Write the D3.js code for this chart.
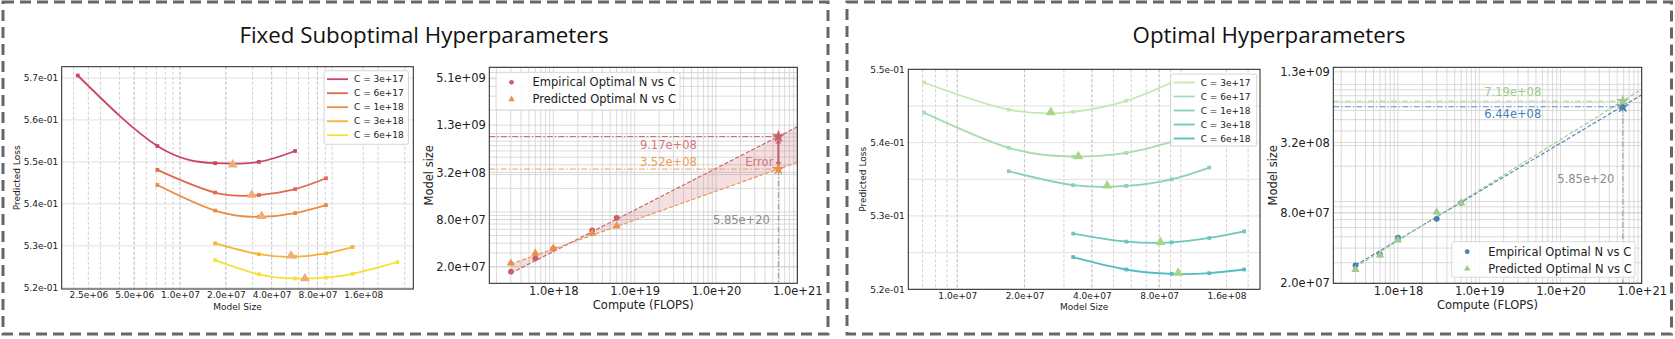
<!DOCTYPE html>
<html>
<head>
<meta charset="utf-8">
<script src="https://cdn.jsdelivr.net/npm/d3@7"></script>
<style>
  body { margin: 0; background: #fff; }
</style>
</head>
<body>
<script>
// compute budgets shared by all four charts
const budgetLabels = ["C = 3e+17", "C = 6e+17", "C = 1e+18", "C = 3e+18", "C = 6e+18"];
const budgets = [3e17, 6e17, 1e18, 3e18, 6e18];

// --- Fixed suboptimal hyperparameters: loss vs model size
const fixedSizes = [
  [2.13e6, 7.1e6, 1.7e7, 3.3e7, 5.7e7],
  [7.1e6, 1.7e7, 3.3e7, 5.7e7, 9.1e7],
  [7.1e6, 1.7e7, 3.3e7, 5.7e7, 9.1e7],
  [1.7e7, 3.3e7, 5.7e7, 9.1e7, 1.36e8],
  [1.7e7, 3.3e7, 5.7e7, 9.1e7, 1.36e8, 2.68e8]
];
const fixedLoss = [
  [0.5706, 0.5538, 0.5497, 0.5500, 0.5526],
  [0.5481, 0.5427, 0.5421, 0.5435, 0.5461],
  [0.5445, 0.5384, 0.5369, 0.5378, 0.5397],
  [0.5306, 0.5280, 0.5274, 0.5282, 0.5297],
  [0.5266, 0.5232, 0.5222, 0.5224, 0.5233, 0.5261]
];
const fixedPredSize = [2.22e7, 2.96e7, 3.44e7, 5.36e7, 6.62e7];
const fixedPredLoss = [0.5491, 0.5419, 0.5368, 0.5274, 0.5220];
const fixedEmpSize = [1.73e7, 2.56e7, 3.40e7, 5.82e7, 8.43e7];
// fitted N vs C lines, read at both ends
const fixedEmpFit = [[3e17, 1.65e7], [1e21, 1.22e9]];
const fixedPredFit = [[3e17, 2.16e7], [1e21, 4.30e8]];

// --- Optimal hyperparameters: loss vs model size
const optSizes = [
  [7.1e6, 1.7e7, 3.3e7, 5.7e7, 9.1e7],
  [7.1e6, 1.7e7, 3.3e7, 5.7e7, 9.1e7],
  [1.7e7, 3.3e7, 5.7e7, 9.1e7, 1.34e8],
  [3.3e7, 5.7e7, 9.1e7, 1.34e8, 1.92e8],
  [3.3e7, 5.7e7, 9.1e7, 1.34e8, 1.92e8]
];
const optLoss = [
  [0.5482, 0.5445, 0.5442, 0.5457, 0.5482],
  [0.5441, 0.5393, 0.5381, 0.5386, 0.5401],
  [0.5361, 0.5342, 0.5341, 0.5350, 0.5366],
  [0.5276, 0.5265, 0.5264, 0.5270, 0.5279],
  [0.5244, 0.5227, 0.5221, 0.5222, 0.5227]
];
const optPredSize = [2.62e7, 3.48e7, 4.68e7, 8.1e7, 9.73e7];
const optPredLoss = [0.5440, 0.5380, 0.5340, 0.5263, 0.5221];
const optEmpSize = [2.85e7, 3.53e7, 4.90e7, 7.11e7, 9.73e7];
const optEmpFit = [[3e17, 2.85e7], [1e21, 8.15e8]];
const optPredFit = [[3e17, 2.75e7], [1e21, 9.1e8]];

// extrapolation target
const targetCompute = 5.85e20;
const fixedTarget = { emp: 9.17e8, pred: 3.52e8 };
const optTarget = { emp: 6.44e8, pred: 7.19e8 };

// tick values
const fixedSizeTicks = [2.5e6, 5e6, 1e7, 2e7, 4e7, 8e7, 1.6e8];
const fixedLossTicks = [0.52, 0.53, 0.54, 0.55, 0.56, 0.57];
const optSizeTicks = [1e7, 2e7, 4e7, 8e7, 1.6e8];
const optLossTicks = [0.52, 0.53, 0.54, 0.55];
const optLossGrid = [0.52, 0.525, 0.53, 0.535, 0.54, 0.545, 0.55];
const computeTicks = [1e18, 1e19, 1e20, 1e21];
const fixedNTicks = [2e7, 8e7, 3.2e8, 1.28e9, 5.12e9];
const optNTicks = [2e7, 8e7, 3.2e8, 1.28e9];

const warm = ["#c94763", "#e0694f", "#ec8b42", "#f4b437", "#f3e23a"];
const cool = ["#c7e8aa", "#a7dcb0", "#8bd1b3", "#6fc7bb", "#56bcc3"];

const FONT = "'DejaVu Sans', sans-serif";
const svg = d3.select("body").append("svg")
  .attr("width", 1675).attr("height", 339)
  .style("font-family", FONT);

// matplotlib style "%.1e" / "%.2e"
const sci = digits => v => {
  const [m, e] = v.toExponential(digits).split("e");
  const n = +e;
  return m + "e" + (n < 0 ? "-" : "+") + String(Math.abs(n)).padStart(2, "0");
};
const fmt = sci(1);
const fmt2 = sci(2);

// dashed outer panels + titles
[[3, 2, 828, 334], [847, 2, 1671.5, 334]].forEach(([x0, y0, x1, y1]) => {
  svg.append("rect").attr("x", x0).attr("y", y0).attr("width", x1 - x0).attr("height", y1 - y0)
    .attr("fill", "none").attr("stroke", "#666").attr("stroke-width", 3).attr("stroke-dasharray", "11,6");
});
svg.append("text").attr("x", 424).attr("y", 43).attr("text-anchor", "middle")
  .style("font-family", "'Open Sans', sans-serif").style("font-size", "22.3px").attr("fill", "#111")
  .text("Fixed Suboptimal Hyperparameters");
svg.append("text").attr("x", 1269).attr("y", 43).attr("text-anchor", "middle")
  .style("font-family", "'Open Sans', sans-serif").style("font-size", "22.3px").attr("fill", "#111")
  .text("Optimal Hyperparameters");

function styleAxis(ax, fs) {
  ax.select(".domain").remove();
  ax.attr("font-family", FONT).attr("font-size", fs);
  ax.selectAll("text").attr("fill", "#222");
}

function frame(g, L, T, R, B) {
  g.append("rect").attr("x", L).attr("y", T).attr("width", R - L).attr("height", B - T)
    .attr("fill", "none").attr("stroke", "#222").attr("stroke-width", 1);
}

function lossPanel(c) {
  const [L, T, R, B] = c.box;
  const x = d3.scaleLog().domain(c.xDomain).range([L, R]);
  const y = d3.scaleLinear().domain(c.yDomain).range([B, T]);
  const g = svg.append("g");

  g.append("g").selectAll("line").data(x.ticks().concat(c.xTicks)).join("line")
    .attr("x1", d => x(d)).attr("x2", d => x(d)).attr("y1", T).attr("y2", B)
    .attr("stroke", "#c4c4c4").attr("stroke-width", 0.8).attr("stroke-dasharray", "3,2");
  g.append("g").selectAll("line").data(c.yGrid).join("line")
    .attr("x1", L).attr("x2", R).attr("y1", d => y(d)).attr("y2", d => y(d))
    .attr("stroke", "#d9d9d9").attr("stroke-width", 0.8);

  const line = d3.line().x(d => x(d[0])).y(d => y(d[1])).curve(d3.curveNatural);
  c.sizes.forEach((s, i) => {
    const pts = s.map((n, j) => [n, c.loss[i][j]]);
    g.append("path").datum(pts).attr("d", line)
      .attr("fill", "none").attr("stroke", c.colors[i]).attr("stroke-width", 1.8);
    g.append("g").selectAll("path").data(pts).join("path")
      .attr("transform", d => `translate(${x(d[0])},${y(d[1])})`)
      .attr("d", d3.symbol(d3.symbolSquare, 14)).attr("fill", c.colors[i]);
  });
  g.append("g").selectAll("path").data(c.predSize).join("path")
    .attr("transform", (d, i) => `translate(${x(d)},${y(c.predLoss[i]) - 1})`)
    .attr("d", d3.symbol(d3.symbolTriangle, 42)).attr("fill", c.triColor);

  // legend
  const [lx0, ly0, lx1, ly1] = c.legend;
  const lg = g.append("g");
  lg.append("rect").attr("x", lx0).attr("y", ly0).attr("width", lx1 - lx0).attr("height", ly1 - ly0)
    .attr("rx", 2).attr("fill", "#fff").attr("fill-opacity", 0.85).attr("stroke", "#ccc").attr("stroke-width", 0.8);
  budgetLabels.forEach((t, i) => {
    const yy = ly0 + 8.5 + i * 14;
    lg.append("line").attr("x1", lx0 + 3).attr("x2", lx0 + 24).attr("y1", yy).attr("y2", yy)
      .attr("stroke", c.colors[i]).attr("stroke-width", 1.8);
    lg.append("text").attr("x", lx0 + 30).attr("y", yy).attr("dy", "0.35em")
      .attr("font-size", 9).attr("fill", "#222").text(t);
  });

  frame(g, L, T, R, B);

  styleAxis(g.append("g").attr("transform", `translate(0,${B})`)
    .call(d3.axisBottom(x).tickValues(c.xTicks).tickFormat(fmt).tickSize(0).tickPadding(2.9)), 9);
  styleAxis(g.append("g").attr("transform", `translate(${L},0)`)
    .call(d3.axisLeft(y).tickValues(c.yTicks).tickFormat(fmt).tickSize(0).tickPadding(3.5)), 9);

  g.append("text").attr("x", (L + R) / 2).attr("y", B + 21).attr("text-anchor", "middle")
    .attr("font-size", 9).attr("fill", "#222").text("Model Size");
  g.append("text").attr("transform", `translate(${c.ylabelX},${(T + B) / 2}) rotate(-90)`)
    .attr("text-anchor", "middle").attr("dy", "0.35em")
    .attr("font-size", 9).attr("fill", "#222").text("Predicted Loss");
}

function scalingPanel(c) {
  const [L, T, R, B] = c.box;
  const x = d3.scaleLog().domain(c.xDomain).range([L, R]);
  const y = d3.scaleLog().domain(c.yDomain).range([B, T]);
  const g = svg.append("g");

  g.append("g").selectAll("line").data(x.ticks()).join("line")
    .attr("x1", d => x(d)).attr("x2", d => x(d)).attr("y1", T).attr("y2", B)
    .attr("stroke", "#d0d0d0").attr("stroke-width", 0.8);
  g.append("g").selectAll("line").data(y.ticks().concat(c.yTicks)).join("line")
    .attr("x1", L).attr("x2", R).attr("y1", d => y(d)).attr("y2", d => y(d))
    .attr("stroke", "#d0d0d0").attr("stroke-width", 0.8);

  const px = d => x(d[0]), py = d => y(d[1]);
  if (c.shade) {
    const band = c.empFit.map((d, i) => [d[0], d[1], c.predFit[i][1]]);
    g.append("path").datum(band)
      .attr("d", d3.area().x(d => x(d[0])).y0(d => y(d[1])).y1(d => y(d[2])))
      .attr("fill", c.empColor).attr("fill-opacity", 0.2);
  }
  [[c.empFit, c.empColor], [c.predFit, c.predColor]].forEach(([f, col]) => {
    g.append("path").datum(f).attr("d", d3.line().x(px).y(py))
      .attr("fill", "none").attr("stroke", col).attr("stroke-width", 1.1).attr("stroke-dasharray", "4,2");
  });

  const xt = x(c.target);
  // horizontal reference lines at extrapolated sizes
  [[c.at.emp, c.empColor], [c.at.pred, c.predColor]].forEach(([v, col]) => {
    g.append("line").attr("x1", L).attr("x2", xt).attr("y1", y(v)).attr("y2", y(v))
      .attr("stroke", col).attr("stroke-width", 0.9).attr("stroke-dasharray", "6,2,1.5,2");
  });
  const lower = Math.min(c.at.emp, c.at.pred);
  g.append("line").attr("x1", xt).attr("x2", xt).attr("y1", y(lower)).attr("y2", B)
    .attr("stroke", "#888").attr("stroke-width", 0.9).attr("stroke-dasharray", "6,2,1.5,2");

  if (c.error) {
    const a = y(c.at.emp) + 3, b = y(c.at.pred) - 3;
    g.append("line").attr("x1", xt).attr("x2", xt).attr("y1", a).attr("y2", b)
      .attr("stroke", c.empColor).attr("stroke-width", 2);
    [[a, -1], [b, 1]].forEach(([yy, s]) => {
      g.append("path").attr("d", `M${xt - 3},${yy - s * 4}L${xt},${yy}L${xt + 3},${yy - s * 4}Z`)
        .attr("fill", c.empColor);
    });
    g.append("text").attr("x", xt - 5).attr("y", y(c.at.pred) - 7.4).attr("dy", "0.35em")
      .attr("text-anchor", "end").attr("font-size", 11.5).attr("fill", c.empText).text("Error");
  }

  g.append("g").selectAll("path").data(budgets).join("path")
    .attr("transform", (d, i) => `translate(${x(d)},${y(c.emp[i])})`)
    .attr("d", d3.symbol(d3.symbolCircle, 26)).attr("fill", c.empColor);
  g.append("g").selectAll("path").data(budgets).join("path")
    .attr("transform", (d, i) => `translate(${x(d)},${y(c.pred[i])})`)
    .attr("d", d3.symbol(d3.symbolTriangle, 30)).attr("fill", c.predColor);
  [[c.at.emp, c.empColor], [c.at.pred, c.predColor]].forEach(([v, col]) => {
    g.append("path").attr("transform", `translate(${xt},${y(v)})`)
      .attr("d", d3.symbol(d3.symbolStar, 55)).attr("fill", col);
  });

  // value labels
  g.append("text").attr("x", xt - 110).attr("y", y(c.at.emp) + c.empDy).attr("dy", "0.35em")
    .attr("text-anchor", "middle").attr("font-size", 11.5).attr("fill", c.empText).text(fmt2(c.at.emp));
  g.append("text").attr("x", xt - 110).attr("y", y(c.at.pred) + c.predDy).attr("dy", "0.35em")
    .attr("text-anchor", "middle").attr("font-size", 11.5).attr("fill", c.predText).text(fmt2(c.at.pred));
  g.append("text").attr("x", xt - 8.5).attr("y", B - c.computeUp).attr("dy", "0.35em")
    .attr("text-anchor", "end").attr("font-size", 11.5).attr("fill", "#8c8c8c").text(fmt2(c.target));

  // legend
  const [lx0, ly0, lx1, ly1] = c.legend;
  const lg = g.append("g");
  lg.append("rect").attr("x", lx0).attr("y", ly0).attr("width", lx1 - lx0).attr("height", ly1 - ly0)
    .attr("rx", 2.5).attr("fill", "#fff").attr("fill-opacity", 0.85).attr("stroke", "#d0d0d0").attr("stroke-width", 0.8);
  [["Empirical Optimal N vs C", d3.symbolCircle, c.empColor, 18],
   ["Predicted Optimal N vs C", d3.symbolTriangle, c.predColor, 18]].forEach(([t, sym, col, sz], i) => {
    const yy = ly0 + 10 + i * 17;
    lg.append("path").attr("transform", `translate(${lx0 + 15.5},${yy})`)
      .attr("d", d3.symbol(sym, sz)).attr("fill", col);
    lg.append("text").attr("x", lx0 + 36.5).attr("y", yy).attr("dy", "0.35em")
      .attr("font-size", 11.5).attr("fill", "#222").text(t);
  });

  frame(g, L, T, R, B);

  styleAxis(g.append("g").attr("transform", `translate(0,${B})`)
    .call(d3.axisBottom(x).tickValues(computeTicks).tickFormat(fmt).tickSize(0).tickPadding(3.4)), 11.5);
  styleAxis(g.append("g").attr("transform", `translate(${L},0)`)
    .call(d3.axisLeft(y).tickValues(c.yTicks).tickFormat(fmt).tickSize(0).tickPadding(3.5)), 11.5);

  g.append("text").attr("x", (L + R) / 2).attr("y", B + 21.7).attr("dy", "0.35em").attr("text-anchor", "middle")
    .attr("font-size", 11.5).attr("fill", "#222").text("Compute (FLOPS)");
  g.append("text").attr("transform", `translate(${c.ylabelX},${(T + B) / 2}) rotate(-90)`)
    .attr("text-anchor", "middle").attr("dy", "0.35em")
    .attr("font-size", 11.5).attr("fill", "#222").text("Model size");
}

lossPanel({
  box: [61.7, 66.7, 413.3, 289],
  xDomain: [1.67e6, 3.41e8], yDomain: [0.5197, 0.5727],
  xTicks: fixedSizeTicks, yTicks: fixedLossTicks, yGrid: fixedLossTicks,
  sizes: fixedSizes, loss: fixedLoss, predSize: fixedPredSize, predLoss: fixedPredLoss,
  colors: warm, triColor: "#f0ad78",
  legend: [324, 70.7, 408.5, 144.3], ylabelX: 16.7
});

scalingPanel({
  box: [489.3, 67.3, 797.3, 283.3],
  xDomain: [1.63e17, 1e21], yDomain: [1.23e7, 7.0e9], yTicks: fixedNTicks,
  emp: fixedEmpSize, pred: fixedPredSize, empFit: fixedEmpFit, predFit: fixedPredFit,
  target: targetCompute, at: fixedTarget,
  empColor: "#c95d68", predColor: "#e8914a", empText: "#d07880", predText: "#eb9c58",
  empDy: 8, predDy: -7.4, computeUp: 63.3,
  shade: true, error: true, legend: [496, 72.3, 680, 110], ylabelX: 429.3
});

lossPanel({
  box: [908.3, 69.3, 1260, 289.3],
  xDomain: [6.04e6, 2.26e8], yDomain: [0.52, 0.55],
  xTicks: optSizeTicks, yTicks: optLossTicks, yGrid: optLossGrid,
  sizes: optSizes, loss: optLoss, predSize: optPredSize, predLoss: optPredLoss,
  colors: cool, triColor: "#a6d884",
  legend: [1170.7, 74, 1256.7, 146], ylabelX: 863.3
});

scalingPanel({
  box: [1333.3, 67.3, 1641.7, 283.3],
  xDomain: [1.6e17, 1e21], yDomain: [2.0e7, 1.4e9], yTicks: optNTicks,
  emp: optEmpSize, pred: optPredSize, empFit: optEmpFit, predFit: optPredFit,
  target: targetCompute, at: optTarget,
  empColor: "#4a7fb5", predColor: "#9ccb8c", empText: "#4a7fb5", predText: "#9ccb8c",
  empDy: 7, predDy: -9, computeUp: 104,
  shade: false, error: false, legend: [1451.7, 241.7, 1635, 277.3], ylabelX: 1272.7
});
</script>
</body>
</html>
